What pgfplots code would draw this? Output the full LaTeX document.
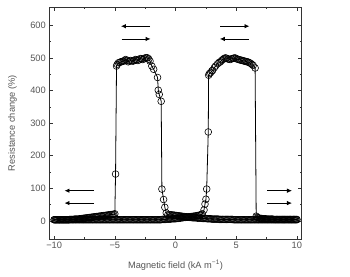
\documentclass[border=0pt]{standalone}
\usepackage{fontspec}
\setmainfont{Liberation Sans}
\usepackage{pgfplots}
\pgfplotsset{compat=1.18}
\usetikzlibrary{arrows.meta}
\definecolor{txt}{HTML}{555555}
\definecolor{axc}{HTML}{333333}

\begin{document}
\begin{tikzpicture}
\useasboundingbox (-49.3bp,-38bp) rectangle (300.7bp,239bp);
\begin{axis}[
  at={(0,0)}, anchor=south west,
  scale only axis,
  width=252.4bp, height=231.7bp,
  xmin=-10.4, xmax=10.4,
  ymin=-55, ymax=655,
  xtick={-10,-5,0,5,10},
  ytick={0,100,200,300,400,500,600},
  minor x tick num=1,
  minor y tick num=1,
  tick align=inside,
  major tick length=3.5bp,
  minor tick length=2bp,
  axis line style={axc, line width=0.8pt},
  tick style={axc, line width=0.6pt},
  /pgf/number format/assume math mode=true,
  ticklabel style={font=\fontsize{9.3}{11}\selectfont, text=txt},
  xticklabel={\ifdim\tick pt<0pt −\pgfmathparse{abs(\tick)}\pgfmathprintnumber{\pgfmathresult}\else\pgfmathprintnumber{\tick}\fi},
  label style={font=\fontsize{9.3}{11}\selectfont, text=txt},
  xlabel={Magnetic field (kA m\textsuperscript{−1})},
  ylabel={Resistance change (\%)},
  xlabel style={at={(axis description cs:0.5,0)}, anchor=north, yshift=-18bp},
  ylabel style={at={(axis description cs:0,0.5)}, anchor=south, yshift=29bp},
]
% descending sweep (+10 -> -10)
\addplot[black, line width=0.8pt, mark=o, mark size=3.4pt,
  mark options={fill=white, draw=black, line width=0.6pt}] coordinates {
(10.0,4)(9.9,4)(9.8,4)(9.7,4)(9.6,4)(9.5,4)(9.4,4)(9.3,4)(9.2,4)(9.1,4)
(9.0,4)(8.9,4)(8.8,4)(8.7,4)(8.6,4)(8.5,4)(8.4,4)(8.3,4)(8.2,4)(8.1,4)
(8.0,4)(7.9,4)(7.8,4)(7.7,4)(7.6,4)(7.5,4)(7.4,4)(7.3,4)(7.2,4)(7.1,4)
(7.0,4)(6.9,4)(6.8,4)(6.7,4)(6.6,4)(6.5,4)(6.4,4)(6.3,4)(6.2,4)(6.1,4)
(6.0,4)(5.9,4)(5.8,4)(5.7,4)(5.6,4)(5.5,4)(5.4,4)(5.3,4)(5.2,4)(5.1,4)
(5.0,4)(4.9,4)(4.8,4)(4.7,5)(4.6,5)(4.5,5)(4.4,5)(4.3,5)(4.2,5)(4.1,5)
(4.0,5)(3.9,5)(3.8,5)(3.7,5)(3.6,5)(3.5,6)(3.4,6)(3.3,6)(3.2,6)(3.1,6)
(3.0,6)(2.9,7)(2.8,7)(2.7,7)(2.6,7)(2.5,8)(2.4,8)(2.3,8)(2.2,8)(2.1,9)
(2.0,9)(1.9,9)(1.8,9)(1.7,10)(1.6,10)(1.5,10)(1.4,10)(1.3,11)(1.2,11)(1.1,12)
(1.0,12)(0.9,13)(0.8,13)(0.7,14)(0.6,14)(0.5,15)(0.4,15)(0.3,16)(0.2,16)(0.1,17)
(0.0,17)(-0.1,18)(-0.2,18)(-0.3,19)(-0.4,19)(-0.5,19)(-0.63,19)
(-0.76,25)(-0.88,42)(-0.98,66)(-1.12,98)
(-1.18,367)(-1.34,388)(-1.42,401)(-1.48,440)(-1.8,465)(-1.95,475)(-2.1,490)
(-2.2,496)(-2.3,500)(-2.4,500)(-2.5,500)(-2.6,497)(-2.7,495)(-2.8,497)(-2.9,498)
(-3.0,494)(-3.1,492)(-3.2,494)(-3.3,495)(-3.4,492)(-3.5,490)(-3.6,491)(-3.7,492)
(-3.8,490)(-3.9,488)(-4.0,492)(-4.1,495)(-4.2,492)(-4.3,490)(-4.4,489)(-4.5,488)
(-4.6,486)(-4.7,485)(-4.8,480)(-4.86,475)
(-4.94,144)
(-5.0,22)(-5.1,21)(-5.2,20)(-5.3,20)(-5.4,19)(-5.5,19)(-5.6,18)(-5.7,18)(-5.8,17)(-5.9,17)
(-6.0,16)(-6.1,16)(-6.2,15)(-6.3,15)(-6.4,14)(-6.5,14)(-6.6,13)(-6.7,13)(-6.8,12)(-6.9,12)
(-7.0,11)(-7.1,11)(-7.2,10)(-7.3,10)(-7.4,9)(-7.5,9)(-7.6,8)(-7.7,8)(-7.8,7)(-7.9,7)
(-8.0,6)(-8.1,6)(-8.2,6)(-8.3,6)(-8.4,5)(-8.5,5)(-8.6,5)(-8.7,5)(-8.8,4)(-8.9,4)
(-9.0,4)(-9.1,4)(-9.2,4)(-9.3,4)(-9.4,4)(-9.5,4)(-9.6,4)(-9.7,4)(-9.8,4)(-9.9,4)
(-10.0,4)
};
% ascending sweep (-10 -> +10)
\addplot[black, line width=0.8pt, mark=o, mark size=3.4pt,
  mark options={fill=white, draw=black, line width=0.6pt}] coordinates {
(-10.0,4)(-9.9,4)(-9.8,4)(-9.7,4)(-9.6,4)(-9.5,4)(-9.4,4)(-9.3,4)(-9.2,4)(-9.1,4)
(-9.0,4)(-8.9,4)(-8.8,4)(-8.7,4)(-8.6,4)(-8.5,4)(-8.4,4)(-8.3,4)(-8.2,4)(-8.1,4)
(-8.0,4)(-7.9,4)(-7.8,4)(-7.7,4)(-7.6,4)(-7.5,4)(-7.4,4)(-7.3,4)(-7.2,4)(-7.1,4)
(-7.0,4)(-6.9,4)(-6.8,4)(-6.7,4)(-6.6,4)(-6.5,4)(-6.4,4)(-6.3,4)(-6.2,4)(-6.1,4)
(-6.0,4)(-5.9,4)(-5.8,4)(-5.7,4)(-5.6,4)(-5.5,4)(-5.4,4)(-5.3,4)(-5.2,4)(-5.1,4)
(-5.0,4)(-4.9,4)(-4.8,4)(-4.7,4)(-4.6,4)(-4.5,4)(-4.4,4)(-4.3,4)(-4.2,4)(-4.1,4)
(-4.0,4)(-3.9,4)(-3.8,4)(-3.7,4)(-3.6,4)(-3.5,4)(-3.4,4)(-3.3,4)(-3.2,4)(-3.1,4)
(-3.0,4)(-2.9,4)(-2.8,4)(-2.7,4)(-2.6,4)(-2.5,4)(-2.4,4)(-2.3,4)(-2.2,4)(-2.1,4)
(-2.0,4)(-1.9,4)(-1.8,4)(-1.7,4)(-1.6,4)(-1.5,4)(-1.4,4)(-1.3,4)(-1.2,4)(-1.1,5)
(-1.0,5)(-0.9,5)(-0.8,5)(-0.7,6)(-0.6,6)(-0.5,6)(-0.4,6)(-0.3,7)(-0.2,7)(-0.1,7)
(0.0,7)(0.1,8)(0.2,8)(0.3,9)(0.4,9)(0.5,10)(0.6,10)(0.7,11)(0.8,11)(0.9,12)
(1.0,12)(1.1,13)(1.2,13)(1.3,14)(1.4,14)(1.5,15)(1.6,15)(1.7,16)(1.8,17)(1.9,17)
(2.0,18)(2.1,20)(2.2,22)(2.35,34)(2.43,52)(2.51,67)(2.57,98)
(2.7,273)
(2.73,447)(2.8,452)(2.9,455)(3.0,460)(3.06,462)(3.2,470)(3.3,475)(3.47,482)(3.6,486)
(3.7,488)(3.8,492)(3.9,495)(4.0,498)(4.1,500)(4.2,499)(4.3,497)(4.4,496)(4.5,495)
(4.6,497)(4.7,498)(4.8,499)(4.9,500)(5.0,498)(5.1,496)(5.2,495)(5.3,494)(5.4,493)
(5.5,492)(5.6,491)(5.7,490)(5.8,489)(5.9,488)(6.0,487)(6.1,485)(6.2,483)(6.3,480)
(6.4,477)(6.56,469)
(6.65,15)(6.7,12)(6.8,10)(6.9,9)(7.0,8)(7.1,8)(7.2,7)(7.3,7)(7.4,7)(7.5,6)
(7.6,6)(7.7,6)(7.8,6)(7.9,6)(8.0,6)(8.1,5)(8.2,5)(8.3,5)(8.4,5)(8.5,5)
(8.6,5)(8.7,5)(8.8,5)(8.9,5)(9.0,5)(9.1,5)(9.2,5)(9.3,5)(9.4,5)(9.5,5)
(9.6,5)(9.7,5)(9.8,5)(9.9,5)(10.0,5)
};
\draw[-{Latex[length=5bp,width=4.5bp]}, line width=0.9pt, black] (axis cs:-2.1,597) -- (axis cs:-4.5,597);
\draw[-{Latex[length=5bp,width=4.5bp]}, line width=0.9pt, black] (axis cs:-4.45,558) -- (axis cs:-2.05,558);
\draw[-{Latex[length=5bp,width=4.5bp]}, line width=0.9pt, black] (axis cs:3.7,597) -- (axis cs:6.1,597);
\draw[-{Latex[length=5bp,width=4.5bp]}, line width=0.9pt, black] (axis cs:6.05,558) -- (axis cs:3.65,558);
\draw[-{Latex[length=5bp,width=4.5bp]}, line width=0.9pt, black] (axis cs:-6.7,93) -- (axis cs:-9.15,93);
\draw[-{Latex[length=5bp,width=4.5bp]}, line width=0.9pt, black] (axis cs:-6.7,55) -- (axis cs:-9.15,55);
\draw[-{Latex[length=5bp,width=4.5bp]}, line width=0.9pt, black] (axis cs:7.55,93) -- (axis cs:9.6,93);
\draw[-{Latex[length=5bp,width=4.5bp]}, line width=0.9pt, black] (axis cs:7.55,55) -- (axis cs:9.6,55);
\end{axis}
\end{tikzpicture}
\end{document}
